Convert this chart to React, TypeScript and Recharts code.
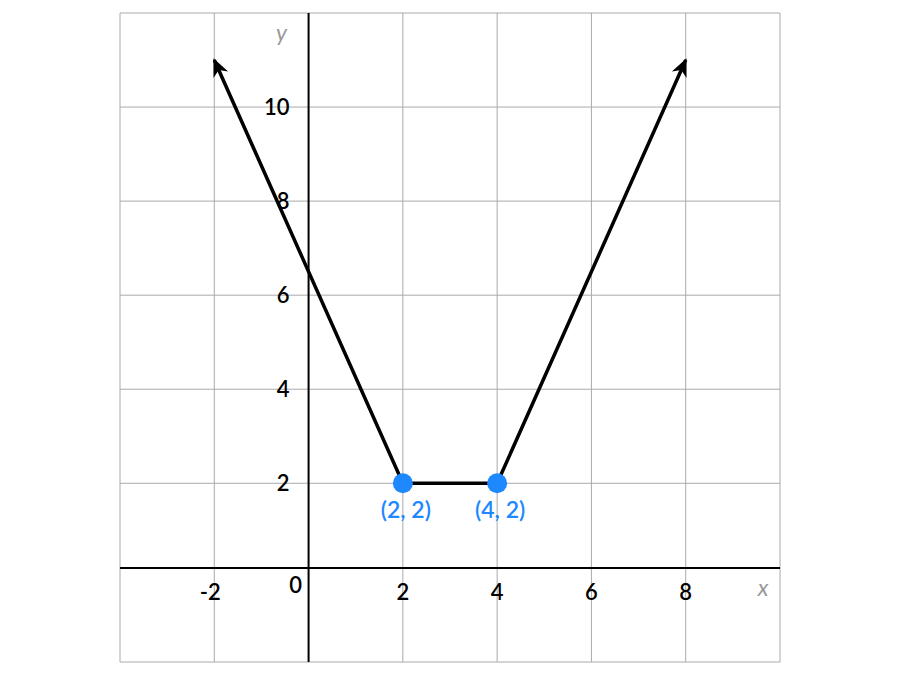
import React from "react";
import {
  ComposedChart,
  Line,
  Scatter,
  XAxis,
  YAxis,
  CartesianGrid,
  ReferenceLine,
  ReferenceDot,
} from "recharts";

// axes / grid
const X_DOMAIN = [-4, 10];
const Y_DOMAIN = [-1.8, 12];
const GRID_X = [-4, -2, 0, 2, 4, 6, 8, 10];
const GRID_Y = [-1.8, 2, 4, 6, 8, 10, 12];
const X_TICKS = [-2, 2, 4, 6, 8];
const Y_TICKS = [2, 4, 6, 8, 10];
const X_AXIS_AT = 0.2; // the drawn x axis sits a little above y = 0 in the picture

// the graph: two rays joined by a flat segment
const PATH_X = [-2, 2, 4, 8];
const PATH_Y = [11, 2, 2, 11];

// highlighted points
const POINT_X = [2, 4];
const POINT_Y = [2, 2];
const POINT_LABELS = ["(2, 2)", "(4, 2)"];

const FONT = "Lato, 'Open Sans', sans-serif";
const BLUE = "#1E88FF";

const pathData = PATH_X.map((x, i) => ({ x, y: PATH_Y[i] }));
const pointData = POINT_X.map((x, i) => ({ x, y: POINT_Y[i], label: POINT_LABELS[i] }));

function textAt(text: string, dx: number, dy: number, opts: any = {}) {
  return (p: any) => (
    <text
      x={p.cx + dx}
      y={p.cy + dy}
      textAnchor={opts.anchor || "middle"}
      fill={opts.fill || "#000"}
      fontSize={opts.size || 22}
      fontWeight={opts.weight || 600}
      fontStyle={opts.italic ? "italic" : "normal"}
      fontFamily={FONT}
    >
      {text}
    </text>
  );
}

function PointShape(props: any) {
  const { cx, cy, payload } = props;
  return (
    <g>
      <circle cx={cx} cy={cy} r={10} fill={BLUE} />
      <text
        x={cx + 3}
        y={cy + 35}
        textAnchor="middle"
        fill={BLUE}
        fontSize={23}
        fontWeight={600}
        fontFamily={FONT}
      >
        {payload.label}
      </text>
    </g>
  );
}

export default function App() {
  return (
    <div style={{ position: "absolute", left: 0, top: 0, background: "#fff" }}>
      <svg width={0} height={0} style={{ position: "absolute" }}>
        <defs>
          <marker
            id="arrowHead"
            viewBox="0 0 18 18"
            refX={16}
            refY={9}
            markerWidth={18}
            markerHeight={18}
            markerUnits="userSpaceOnUse"
            orient="auto-start-reverse"
          >
            <path d="M0,1 L18,9 L0,17 L5,9 Z" fill="#000" />
          </marker>
        </defs>
      </svg>
      <ComposedChart width={900} height={675} margin={{ top: 13, right: 120, bottom: 13, left: 120 }}>
        <XAxis
          dataKey="x"
          type="number"
          domain={X_DOMAIN}
          ticks={GRID_X}
          interval={0}
          allowDataOverflow
          hide
        />
        <YAxis type="number" domain={Y_DOMAIN} ticks={GRID_Y} interval={0} allowDataOverflow hide />
        <CartesianGrid stroke="#aaa" strokeWidth={1} />

        <ReferenceLine y={X_AXIS_AT} stroke="#000" strokeWidth={2} />
        <ReferenceLine x={0} stroke="#000" strokeWidth={2} />

        {X_TICKS.map((v) => (
          <ReferenceDot key={"xt" + v} x={v} y={X_AXIS_AT} r={1} shape={textAt(String(v), v < 0 ? -4 : 0, 32)} />
        ))}
        {Y_TICKS.map((v) => (
          <ReferenceDot key={"yt" + v} x={0} y={v} r={1} shape={textAt(String(v), -19, 8, { anchor: "end" })} />
        ))}
        <ReferenceDot x={0} y={X_AXIS_AT} r={1} shape={textAt("0", -13, 25)} />
        <ReferenceDot
          x={X_DOMAIN[1]}
          y={X_AXIS_AT}
          r={1}
          shape={textAt("x", -17, 28, { fill: "#999", italic: true, size: 23, weight: 400 })}
        />
        <ReferenceDot
          x={0}
          y={Y_DOMAIN[1]}
          r={1}
          shape={textAt("y", -27, 28, { fill: "#999", italic: true, size: 23, weight: 400 })}
        />

        <Line
          data={pathData}
          dataKey="y"
          type="linear"
          stroke="#000"
          strokeWidth={3.5}
          dot={false}
          activeDot={false}
          markerStart="url(#arrowHead)"
          markerEnd="url(#arrowHead)"
          isAnimationActive={false}
        />
        <Scatter data={pointData} dataKey="y" shape={<PointShape />} isAnimationActive={false} />
      </ComposedChart>
    </div>
  );
}
